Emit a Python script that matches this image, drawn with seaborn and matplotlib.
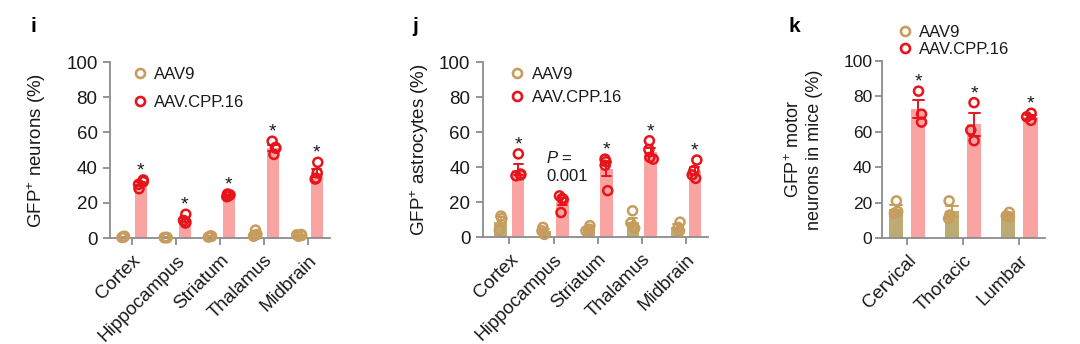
import numpy as np
import pandas as pd
import matplotlib
matplotlib.use("Agg")
import matplotlib.pyplot as plt
import seaborn as sns
from matplotlib.lines import Line2D

sns.set_theme(style="ticks")
plt.rcParams["font.family"] = ["Liberation Sans", "DejaVu Sans"]
plt.rcParams["mathtext.fontset"] = "custom"
plt.rcParams["mathtext.rm"] = "Liberation Sans"
plt.rcParams["mathtext.it"] = "Liberation Sans:italic"
plt.rcParams["mathtext.default"] = "regular"

# ---- data: percentage of GFP+ cells per animal ----
groups = ["AAV9", "AAV.CPP.16"]
brain_regions = ["Cortex", "Hippocampus", "Striatum", "Thalamus", "Midbrain"]
spinal_regions = ["Cervical", "Thoracic", "Lumbar"]

neurons_aav9 = [[0.5, 1.0, 0.3, 0.8], [0.2, 0.4, 0.3, 0.1], [0.5, 1.0, 0.8, 1.2],
                [4.5, 2.0, 1.5, 1.0], [1.5, 2.0, 1.0, 1.8]]
neurons_cpp = [[33, 32, 30.5, 28], [13.5, 10, 9, 8.5], [25, 24.5, 24, 23.5],
               [55, 51.5, 51, 47.5], [43, 37, 34, 33.5]]

astro_aav9 = [[12, 10.5, 4], [5.5, 3.5, 1.5], [6.5, 4.5, 3.5, 4],
              [15, 8, 6, 5], [8.5, 5.5, 3.5]]
astro_cpp = [[47.5, 36, 35.5, 35], [23.5, 22, 21.5, 14], [44.5, 43, 41, 26.5],
             [55, 50, 45.5, 44.5], [44, 38, 35.5, 33.5]]

motor_aav9 = [[21, 15, 14], [21, 13, 11], [14.5, 12.5, 12]]
motor_cpp = [[83, 70, 65.5], [76.5, 61, 55], [70.5, 68.5, 66.5]]

# significance marks: "*" per region, or a P value text
neurons_sig = ["*", "*", "*", "*", "*"]
astro_sig = ["*", "P = 0.001", "*", "*", "*"]
motor_sig = ["*", "*", "*"]

bar_colors = {"AAV9": "#bcab72", "AAV.CPP.16": "#f9a3a3"}
dot_colors = {"AAV9": "#c89c5c", "AAV.CPP.16": "#e8141c"}
spine_color = "#8c8c8c"
text_color = "#1a1a1a"


def long_table(regions, aav9, cpp):
    rows = []
    for reg, a, c in zip(regions, aav9, cpp):
        rows += [(reg, groups[0], v) for v in a]
        rows += [(reg, groups[1], v) for v in c]
    return pd.DataFrame(rows, columns=["region", "vector", "pct"])


def draw_panel(ax, regions, aav9, cpp, sig, gap, ylabel, ytick_size, ylabel_size):
    df = long_table(regions, aav9, cpp)
    sns.barplot(data=df, x="region", y="pct", hue="vector", order=regions,
                hue_order=groups, palette=bar_colors, errorbar="se",
                capsize=0.4, err_kws={"linewidth": 1.4}, width=0.8, gap=gap,
                saturation=1, linewidth=0, legend=False, ax=ax)
    # colour each error bar like its group's dots
    for line in ax.lines:
        xm = np.nanmean(line.get_xdata())
        grp = groups[0] if xm < round(xm) else groups[1]
        line.set_color(dot_colors[grp])
        line.set_zorder(2.5)

    np.random.seed(3)
    sns.stripplot(data=df, x="region", y="pct", hue="vector", order=regions,
                  hue_order=groups, palette=dot_colors, dodge=True, jitter=0.14,
                  size=6.5, linewidth=1.8, legend=False, ax=ax, zorder=3)
    for coll in ax.collections:
        fc = coll.get_facecolor()
        coll.set_edgecolor(fc)
        coll.set_facecolor("none")
        coll.set_clip_on(False)

    # significance marks above the AAV.CPP.16 bars
    for i, (mark, vals) in enumerate(zip(sig, cpp)):
        if mark == "*":
            ax.text(i + 0.2, max(vals) + 2.5, "*", ha="center", va="baseline",
                    fontsize=14, color=text_color)

    ax.set_ylim(0, 100)
    ax.set_yticks([0, 20, 40, 60, 80, 100])
    ax.set_xlabel("")
    ax.set_ylabel(ylabel, fontsize=ylabel_size, color=text_color)
    sns.despine(ax=ax)
    for side in ("left", "bottom"):
        ax.spines[side].set_color(spine_color)
        ax.spines[side].set_linewidth(1.3)
    ax.tick_params(axis="both", colors=spine_color, length=5, width=1.3,
                   labelcolor=text_color)
    ax.tick_params(axis="y", labelsize=ytick_size, pad=4)
    ax.tick_params(axis="x", labelsize=13.5, pad=5)
    for lbl in ax.get_xticklabels():
        lbl.set_rotation(45)
        lbl.set_ha("right")
        lbl.set_va("top")
        lbl.set_rotation_mode("anchor")


def add_legend(ax, anchor, spacing):
    handles = [Line2D([], [], marker="o", ls="none", mfc="none",
                      mec=dot_colors[g], mew=1.9, ms=6.5) for g in groups]
    leg = ax.legend(handles, groups, loc="upper left", bbox_to_anchor=anchor,
                    frameon=False, fontsize=12, handlelength=0.8,
                    handletextpad=0.45, borderpad=0, borderaxespad=0,
                    labelspacing=spacing)
    for t in leg.get_texts():
        t.set_color(text_color)


fig = plt.figure(figsize=(10.8, 3.44), dpi=100)
ax_i = fig.add_axes([0.1019, 0.3081, 0.2037, 0.5116])
ax_j = fig.add_axes([0.4472, 0.3110, 0.2083, 0.5087])
ax_k = fig.add_axes([0.8167, 0.3080, 0.1509, 0.5145])

draw_panel(ax_i, brain_regions, neurons_aav9, neurons_cpp, neurons_sig, 0.3,
           "GFP$^{+}$ neurons (%)", 13.5, 13.5)
draw_panel(ax_j, brain_regions, astro_aav9, astro_cpp, astro_sig, 0.3,
           "GFP$^{+}$ astrocytes (%)", 13.5, 13.5)
draw_panel(ax_k, spinal_regions, motor_aav9, motor_cpp, motor_sig, 0.37,
           "GFP$^{+}$ motor\nneurons in mice (%)", 12.5, 13)

ax_i.set_xlim(-0.5, 4.5)
ax_j.set_xlim(-0.6, 4.5)
ax_k.set_xlim(-0.45, 2.46)

ax_i.yaxis.set_label_coords(-0.282, 0.5)
ax_j.yaxis.set_label_coords(-0.231, 0.5)
ax_k.yaxis.set_label_coords(-0.362, 0.5)
ax_k.yaxis.label.set_multialignment("center")
ax_k.tick_params(axis="y", pad=2)

# P value for hippocampal astrocytes
ax_j.text(0.84, 40, "$\\it{P}$ =\n0.001", ha="left", va="center",
          fontsize=12, color=text_color, linespacing=1.3)

add_legend(ax_i, (0.107, 0.97), 0.75)
add_legend(ax_j, (0.123, 0.97), 0.45)
add_legend(ax_k, (0.10, 1.203), 0.1)

for letter, x in (("i", 0.028), ("j", 0.382), ("k", 0.730)):
    fig.text(x, 0.924, letter, fontsize=15, fontweight="bold", ha="left",
             va="center", color="black")

fig.savefig("out.png", dpi=100)
